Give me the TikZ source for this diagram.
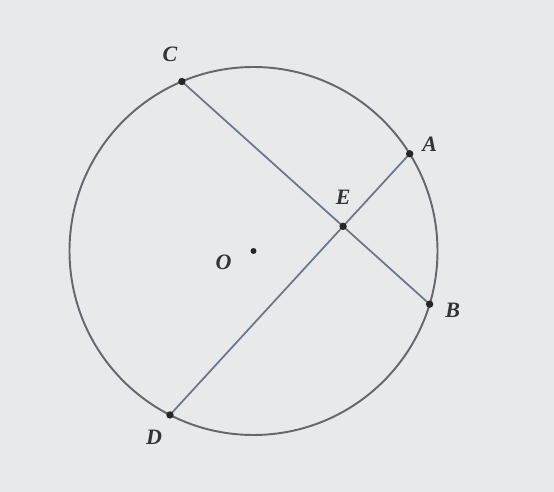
\documentclass[tikz,border=0pt]{standalone}
\usepackage{fontspec}
\setmainfont{Liberation Serif}
\usetikzlibrary{calc}
\definecolor{paper}{RGB}{231,233,235}
\definecolor{rim}{RGB}{100,103,110}
\definecolor{chord}{RGB}{108,120,134}
\def\r{3.68}

\begin{document}
\begin{tikzpicture}[dot/.style={circle,fill=black!85,inner sep=0pt,minimum size=4.2pt},
  lab/.style={font=\fontsize{12.5}{14}\selectfont\bfseries\itshape,text=black!80}]
\fill[paper] (0,0) rectangle (11.08,9.84);
\useasboundingbox (0,0) rectangle (11.08,9.84);
\coordinate (O) at (5.07,4.82);
\coordinate (C) at ($(O)+(112.9:\r)$);
\coordinate (A) at ($(O)+(31.9:\r)$);
\coordinate (B) at ($(O)+(-16.8:\r)$);
\coordinate (D) at ($(O)+(243.0:\r)$);
\coordinate (E) at (intersection of C--B and D--A);
\draw[rim,line width=1.1pt] (O) circle (\r);
\draw[chord,line width=1pt] (C) -- (B);
\draw[chord,line width=1pt] (D) -- (A);
\node[dot] (dC) at (C) {};
\node[dot] (dA) at (A) {};
\node[dot] (dB) at (B) {};
\node[dot] (dD) at (D) {};
\node[dot] (dE) at (E) {};
\node[dot,minimum size=3.4pt] (dO) at (O) {};
\node[lab] (lC) at ($(C)+(-0.24,0.54)$) {C};
\node[lab] (lA) at ($(A)+(0.40,0.20)$) {A};
\node[lab] (lE) at ($(E)+(0,0.58)$) {E};
\node[lab] (lO) at ($(O)+(-0.60,-0.22)$) {O};
\node[lab] (lB) at ($(B)+(0.46,-0.12)$) {B};
\node[lab] (lD) at ($(D)+(-0.32,-0.44)$) {D};
\end{tikzpicture}
\end{document}
